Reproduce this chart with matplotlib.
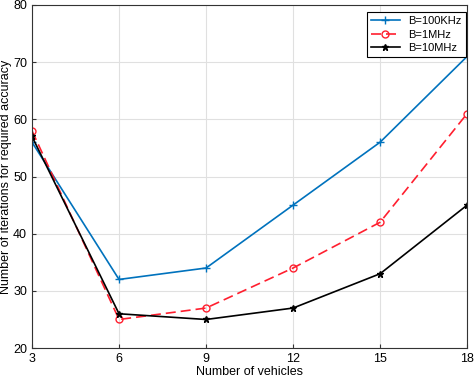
import matplotlib
matplotlib.use('Agg')
import matplotlib.pyplot as plt

vehicles = [3, 6, 9, 12, 15, 18]
iters_100khz = [56, 32, 34, 45, 56, 71]
iters_1mhz = [58, 25, 27, 34, 42, 61]
iters_10mhz = [57, 26, 25, 27, 33, 45]

plt.rcParams['font.family'] = ['Liberation Sans', 'DejaVu Sans']

fig = plt.figure(figsize=(4.74, 3.80), dpi=100)
ax = fig.add_axes([0.0675, 0.084, 0.918, 0.903])

ax.plot(vehicles, iters_100khz, color='#0072BD', marker='+', markersize=6,
        linewidth=1.2, label='B=100KHz')
ax.plot(vehicles, iters_1mhz, color='#FF1F2F', marker='o', markersize=5,
        markerfacecolor='none', linestyle=(0, (6, 3)), linewidth=1.2, label='B=1MHz')
ax.plot(vehicles, iters_10mhz, color='black', marker='*', markersize=5,
        linewidth=1.2, label='B=10MHz')

ax.set_xlim(3, 18)
ax.set_ylim(20, 80)
ax.set_xticks(vehicles)
ax.set_yticks(range(20, 81, 10))
ax.grid(True, color='#e0e0e0', linewidth=0.8)
ax.tick_params(labelsize=9, direction='in', length=3, color='#333333')
for s in ax.spines.values():
    s.set_color('#333333')
    s.set_linewidth(0.8)

ax.set_xlabel('Number of vehicles', fontsize=9, labelpad=1)
ax.set_ylabel('Number of iterations for required accuracy', fontsize=9, labelpad=1)

leg = ax.legend(loc='upper right', bbox_to_anchor=(0.997, 0.978), borderaxespad=0,
                fontsize=8, fancybox=False, framealpha=1, edgecolor='black',
                borderpad=0.35, handlelength=2.6, labelspacing=0.3)
leg.get_frame().set_linewidth(0.8)

fig.savefig('out.png', dpi=100)
